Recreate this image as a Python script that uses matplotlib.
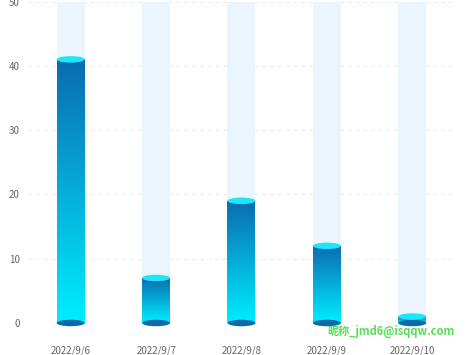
import matplotlib
matplotlib.use("Agg")
import matplotlib.pyplot as plt
import numpy as np
from matplotlib.patches import Ellipse, Rectangle
from matplotlib.colors import LinearSegmentedColormap

plt.rcParams['font.family'] = ['Noto Sans CJK SC', 'DejaVu Sans']

categories = ["2022/9/6", "2022/9/7", "2022/9/8", "2022/9/9", "2022/9/10"]
values = [41, 7, 19, 12, 1]
y_max = 50
y_ticks = [0, 10, 20, 30, 40, 50]

W, H = 474, 355
fig = plt.figure(figsize=(W / 100, H / 100), dpi=100)
ax = fig.add_axes([28 / W, 1 - 323 / H, (455 - 28) / W, 321.5 / H])
ax.set_xlim(-0.5, len(categories) - 0.5)
ax.set_ylim(0, y_max)

bw = 28 / 85.4
eh = 6.5 / 6.43

cmap = LinearSegmentedColormap.from_list("g", ["#00eeff", "#0a6cb0"])
grad = np.linspace(0, 1, 256).reshape(-1, 1)

for i, v in enumerate(values):
    # background bar
    ax.add_patch(Rectangle((i - bw / 2, 0), bw, y_max, facecolor="#eaf5fe", edgecolor="none", zorder=1))
    # gradient bar
    im = ax.imshow(grad, cmap=cmap, aspect="auto", origin="lower",
                   extent=(i - bw / 2, i + bw / 2, 0, v), zorder=2)
    clip = Rectangle((i - bw / 2, 0), bw, v, transform=ax.transData, facecolor="none", edgecolor="none")
    ax.add_patch(clip)
    im.set_clip_path(clip)
    # bottom ellipse
    ax.add_patch(Ellipse((i, 0), bw, eh, facecolor="#0b6aa8", edgecolor="none", zorder=3, clip_on=False))
    # top ellipse
    ax.add_patch(Ellipse((i, v), bw, eh, facecolor="#1de6fb", edgecolor="none", zorder=4, clip_on=False))

ax.set_xlim(-0.5, len(categories) - 0.5)
ax.set_ylim(0, y_max)
ax.set_yticks(y_ticks)
ax.set_xticks(range(len(categories)))
ax.set_xticklabels(categories)
ax.tick_params(axis="both", length=0, labelsize=7, colors="#666666")
ax.tick_params(axis="x", pad=16)
ax.tick_params(axis="y", pad=6)
ax.grid(axis="y", color="#e9edf3", linestyle=(0, (4, 3)), linewidth=0.8, zorder=0)
ax.set_axisbelow(True)
for s in ax.spines.values():
    s.set_visible(False)

fig.text(391 / W, 1 - 331 / H, "昵称_jmd6@isqqw.com", color="#44dd44", fontsize=8,
         ha="center", va="center", fontweight="bold", alpha=0.9)

fig.savefig("out.png", dpi=100)
